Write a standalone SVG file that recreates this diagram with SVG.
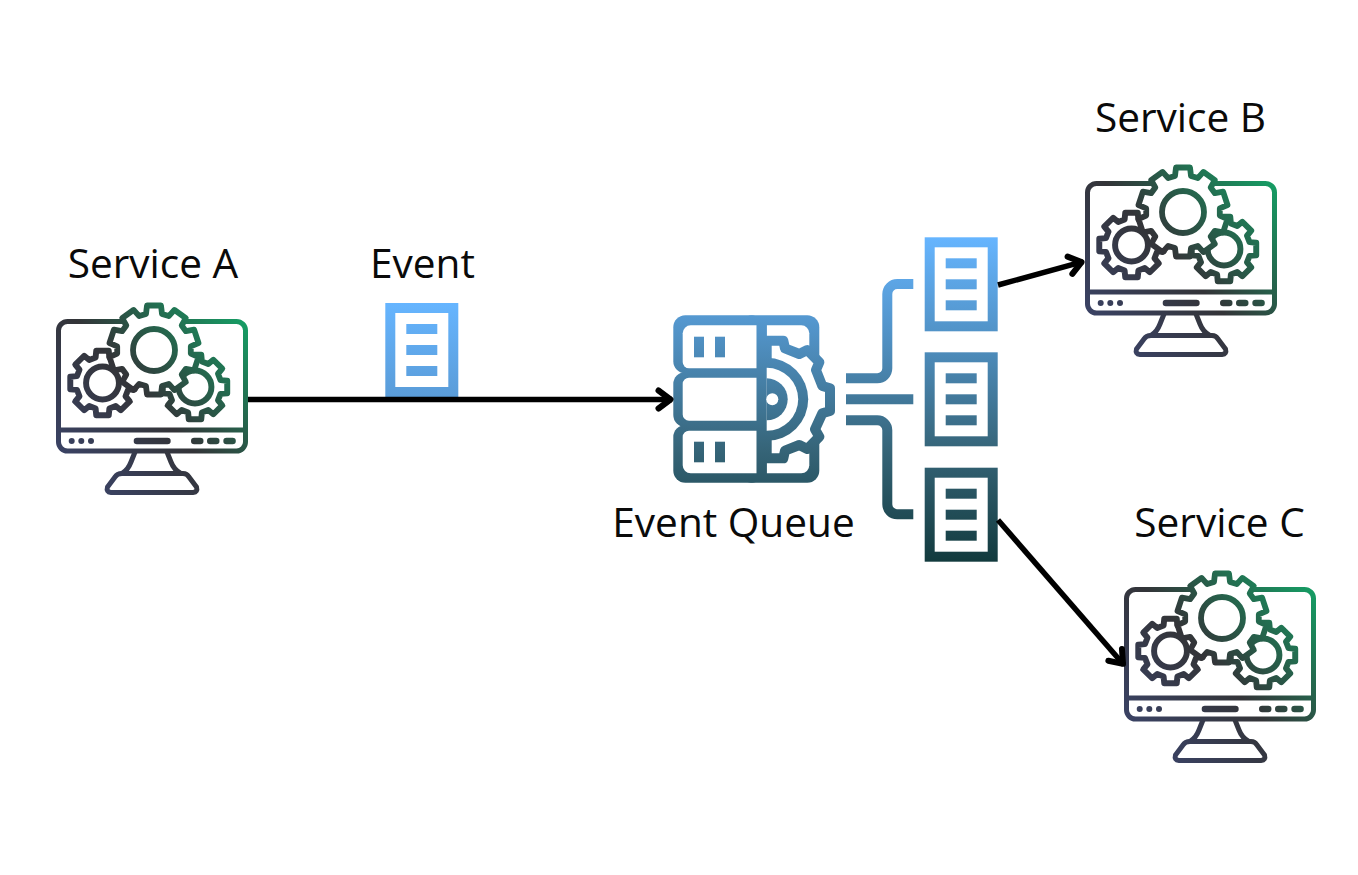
<svg xmlns="http://www.w3.org/2000/svg" width="1358" height="875" viewBox="0 0 1358 875">
<style>
.lbl{font-family:"Open Sans","Noto Sans",sans-serif;font-size:40.6px;fill:#0a0a0a;text-anchor:middle}
.m{fill:none;stroke:url(#mg);stroke-width:5;stroke-linejoin:round;stroke-linecap:round}
.mf{fill:url(#mg);stroke:none}
.gb{fill:#fff;stroke:url(#gbig);stroke-width:5.8;stroke-linejoin:round}
.gl{fill:#fff;stroke:url(#gleft);stroke-width:5.6;stroke-linejoin:round}
.gr{fill:#fff;stroke:url(#gright);stroke-width:5.6;stroke-linejoin:round}
.q{fill:url(#qg)}
.w{fill:#fff}
.ar{fill:none;stroke:#000;stroke-width:5.500;marker-end:url(#arrow)}
.tube{fill:none;stroke:url(#qg);stroke-width:10}
</style>
<defs>
<linearGradient id="mg" gradientUnits="userSpaceOnUse" x1="56" y1="490" x2="247" y2="319">
<stop offset="0" stop-color="#3c4670"/><stop offset="0.5" stop-color="#333438"/><stop offset="1" stop-color="#159f65"/>
</linearGradient>
<linearGradient id="gbig" href="#mg" gradientTransform="translate(-154 -350)"/>
<linearGradient id="gleft" href="#mg" gradientTransform="scale(.943) translate(-102.500 -383)"/>
<linearGradient id="gright" href="#mg" gradientTransform="scale(.943) translate(-195 -387)"/>
<linearGradient id="qg" gradientUnits="userSpaceOnUse" x1="0" y1="237" x2="0" y2="562">
<stop offset="0" stop-color="#66b5ff"/><stop offset="0.3" stop-color="#5192c6"/><stop offset="0.65" stop-color="#366579"/><stop offset="1" stop-color="#123a3d"/>
</linearGradient>
<linearGradient id="d1" href="#qg" gradientTransform="translate(0 -237.300)"/>
<linearGradient id="d2" href="#qg" gradientTransform="translate(0 -352.300)"/>
<linearGradient id="d3" href="#qg" gradientTransform="translate(0 -467.700)"/>
<linearGradient id="eg" gradientUnits="userSpaceOnUse" x1="0" y1="0" x2="0" y2="94">
<stop offset="0" stop-color="#66b5ff"/><stop offset="1" stop-color="#5a9cd8"/>
</linearGradient>
<marker id="arrow" markerUnits="userSpaceOnUse" orient="auto" markerWidth="30" markerHeight="34" refX="20" refY="17" viewBox="0 0 30 34">
<path d="M6.500 8 L18.500 17 L6.500 26" fill="none" stroke="#000" stroke-width="6" stroke-linecap="round" stroke-linejoin="round"/>
</marker>
<path id="bigGear" d="M7 -44.5L8 -36.1L14.8 -33.9L20.4 -40.1L31.8 -31.8L27.7 -24.5L31.9 -18.8L40.1 -20.4L44.5 -7L36.8 -3.6L36.8 3.6L44.5 7L40.1 20.4L31.9 18.8L27.7 24.5L31.8 31.8L20.4 40.1L14.8 33.9L8 36.1L7 44.5L-7 44.5L-8 36.1L-14.8 33.9L-20.4 40.1L-31.8 31.8L-27.7 24.5L-31.9 18.8L-40.1 20.4L-44.5 7L-36.8 3.6L-36.8 -3.6L-44.5 -7L-40.1 -20.4L-31.9 -18.8L-27.7 -24.5L-31.8 -31.8L-20.4 -40.1L-14.8 -33.9L-8 -36.1L-7 -44.5Z"/>
<path id="smallGear" d="M5.9 -30.4L6.5 -24.1L12.5 -21.7L17.3 -25.7L25.7 -17.3L21.7 -12.5L24.1 -6.5L30.4 -5.9L30.4 5.9L24.1 6.5L21.7 12.5L25.7 17.3L17.3 25.7L12.5 21.7L6.5 24.1L5.9 30.4L-5.9 30.4L-6.5 24.1L-12.5 21.7L-17.3 25.7L-25.7 17.3L-21.7 12.5L-24.1 6.5L-30.4 5.9L-30.4 -5.9L-24.1 -6.5L-21.7 -12.5L-25.7 -17.3L-17.3 -25.7L-12.5 -21.7L-6.5 -24.1L-5.9 -30.4Z"/>
<g id="monitor">
<rect class="m" x="58.500" y="321.500" width="187" height="129.500" rx="9"/>
<path class="m" d="M58.500 430H245.500"/>
<path class="m" d="M135 452L131 462Q128 470 122 473.500M167 452L171 462Q174 470 181 473.500"/>
<path class="m" d="M122 473.500H183Q187 473.500 189 477L196.500 487Q198 492 193 492.500H111Q106 492 107.500 487L115 477Q117 473.500 122 473.500Z"/>
<circle class="mf" cx="71.700" cy="441" r="3"/><circle class="mf" cx="81.300" cy="441" r="3"/><circle class="mf" cx="91" cy="441" r="3"/>
<rect class="mf" x="133.700" y="437.800" width="37" height="6.400" rx="3.200"/>
<rect class="mf" x="191" y="437.800" width="12.500" height="6.400" rx="3.200"/>
<rect class="mf" x="207" y="437.800" width="12.500" height="6.400" rx="3.200"/>
<rect class="mf" x="223.300" y="437.800" width="12.500" height="6.400" rx="3.200"/>
<g transform="translate(102.500 383) scale(1.060)"><use href="#smallGear" class="gl"/><circle r="15.500" class="gl"/></g>
<g transform="translate(195 387) scale(1.060)"><use href="#smallGear" class="gr"/><circle r="15.500" class="gr"/></g>
<g transform="translate(154 350)"><use href="#bigGear" class="gb"/><circle r="21" class="gb"/></g>
</g>
<g id="doc">
<rect x="0" y="0" width="73" height="94"/>
<rect class="w" x="10" y="10" width="53" height="74"/>
<rect x="21" y="21" width="31" height="10"/><rect x="21" y="42" width="31" height="10"/><rect x="21" y="63" width="31" height="10"/>
</g>
</defs>
<rect width="1358" height="875" fill="#fff"/>
<g id="service-a"><use href="#monitor"/><text class="lbl" x="153" y="278">Service A</text></g>
<g id="service-b"><use href="#monitor" x="1029" y="-138"/><text class="lbl" x="1180.500" y="132">Service B</text></g>
<g id="service-c"><use href="#monitor" x="1068" y="268"/><text class="lbl" x="1219.500" y="537">Service C</text></g>
<g id="event"><use href="#doc" x="385.300" y="303" fill="url(#eg)"/><text class="lbl" x="422.500" y="278">Event</text></g>
<g id="event-queue">
<rect class="q" x="673.300" y="315.300" width="90" height="58" rx="12"/>
<rect class="q" x="673.300" y="372" width="90" height="55" rx="12"/>
<rect class="q" x="673.300" y="425" width="90" height="57.700" rx="12"/>
<rect class="q" x="740" y="315.300" width="79.300" height="167.400" rx="12"/>
<path class="w" d="M756.700 325.300V368.300H689A6.300 6.300 0 0 1 682.700 362V333.300A8 8 0 0 1 690.700 325.300Z"/>
<path class="w" d="M756.700 377.700V420.700H689A6.300 6.300 0 0 1 682.700 414.400V384A6.300 6.300 0 0 1 689 377.700Z"/>
<path class="w" d="M756.700 430.700V473.300H690.700A8 8 0 0 1 682.700 465.300V437A6.300 6.300 0 0 1 689 430.700Z"/>
<path class="w" d="M766.700 325.300H801.300A8 8 0 0 1 809.300 333.300V367.300H766.700Z"/>
<path class="w" d="M766.700 431H809.300V465.300A8 8 0 0 1 801.300 473.300H766.700Z"/>
<rect class="q" x="694" y="336.700" width="10" height="20.600"/><rect class="q" x="715" y="336.700" width="10" height="20.600"/>
<rect class="q" x="694" y="441.700" width="10" height="20.600"/><rect class="q" x="715" y="441.700" width="10" height="20.600"/>
<path d="M766.700 340.700H783.300L785 348.300L799.300 354L807.300 350L819.300 362.300L816 370L822.300 386L830 388.300V411L822.300 413.300L815 429.300L819.300 436.700L807.300 449L799.300 445L785 450.700L783.300 458.300H766.700Z" fill="#fff" stroke="url(#qg)" stroke-width="10" stroke-linejoin="round"/>
<rect class="q" x="756.700" y="320" width="10" height="158"/>
<path class="q" d="M766.700 357.800A41.500 41.500 0 0 1 766.700 440.800Z"/>
<path class="w" d="M766.700 367.800A31.500 31.500 0 0 1 766.700 430.800Z"/>
<path class="q" d="M766.700 378.300A21 21 0 0 1 766.700 420.300Z"/>
<circle class="w" cx="772.300" cy="399.300" r="6"/>
<text class="lbl" x="733.500" y="537">Event Queue</text>
</g>
<g id="msg-1"><use href="#doc" x="924.700" y="237.300" fill="url(#d1)"/></g>
<g id="msg-2"><use href="#doc" x="924.700" y="352.300" fill="url(#d2)"/></g>
<g id="msg-3"><use href="#doc" x="924.700" y="467.700" fill="url(#d3)"/></g>
<g id="connectors">
<path class="tube" d="M846 378.300H877.300A10 10 0 0 0 887.300 368.300V294A10 10 0 0 1 897.300 284H913.300"/>
<path class="tube" d="M846 399.300H913.300"/>
<path class="tube" d="M846 420.300H877.300A10 10 0 0 1 887.300 430.300V504.300A10 10 0 0 0 897.300 514.300H913.300"/>
<path class="ar" d="M248 399.500H672"/>
<path class="ar" d="M998 285L1083 261.700"/>
<path class="ar" d="M998 520L1124 665"/>
</g>
</svg>
